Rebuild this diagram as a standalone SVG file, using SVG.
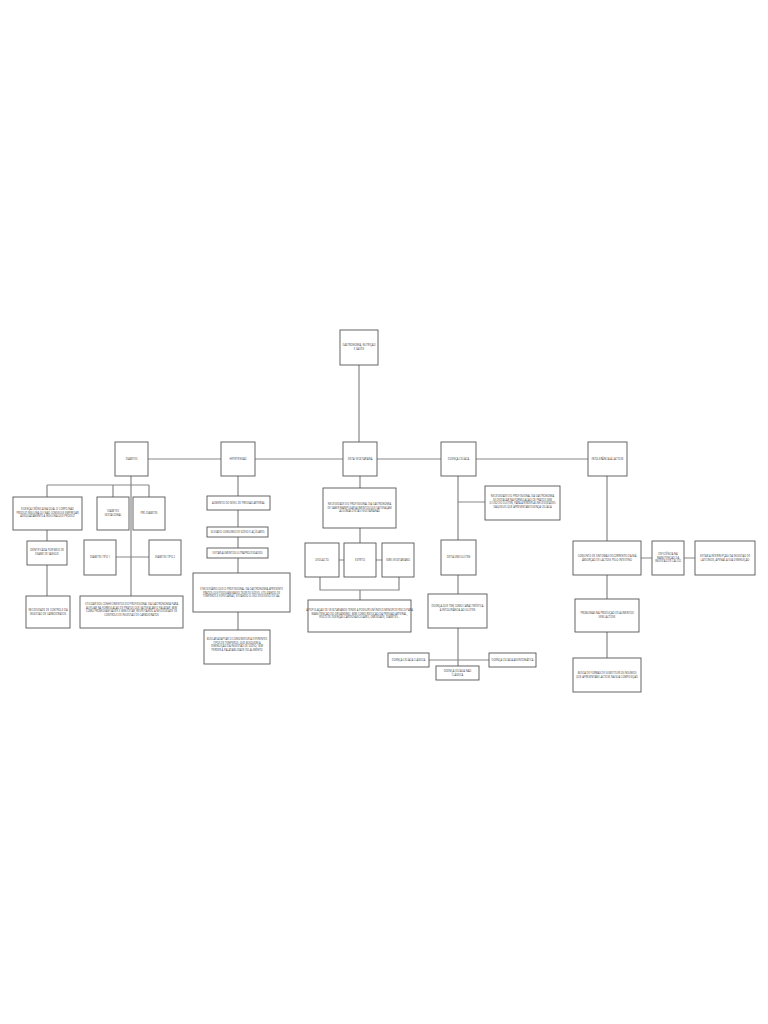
<svg xmlns="http://www.w3.org/2000/svg" width="768" height="1024" viewBox="0 0 768 1024">
<style>
rect{fill:#fff;stroke:#555;stroke-width:0.9}
text{font-family:"Open Sans","Liberation Sans",sans-serif;font-size:2.6px;fill:#444;text-anchor:middle}
.c{stroke:#888;stroke-width:1.2;fill:none}
</style>
<rect x="0" y="0" width="768" height="1024" style="fill:#fff;stroke:none"/>
<g id="connectors">
<path class="c" d="M359 365V442M131 459H588M131 476V596M47 485H149M47 485V497M113 485V497M149 485V497M47 530V541M47 565V596M116 557H149M238 476V496M238 510V527M238 537V548M238 558V573M238 612V630M360 476V488M360 528V543M339 560H344M376 560H382M320 577V590H399V577M360 590V600M458 476V540M458 502H485M458 575V594M458 628V666M429 660H489M607 476V541M641 558H652M684 558H695M607 575V599M607 632V658"/>
</g>
<g id="n0"><rect x="340" y="330" width="38" height="35"/><text x="359" y="346">GASTRONOMIA, NUTRIÇÃO<tspan x="359" dy="3.5">E SAÚDE</tspan></text></g>
<g id="n1"><rect x="115" y="442" width="33" height="34"/><text x="131.5" y="460">DIABETES</text></g>
<g id="n2"><rect x="221" y="442" width="34" height="34"/><text x="238" y="460">HIPERTENSÃO</text></g>
<g id="n3"><rect x="343" y="442" width="34" height="34"/><text x="360" y="460">DIETA VEGETARIANA</text></g>
<g id="n4"><rect x="441" y="442" width="35" height="34"/><text x="458.5" y="460">DOENÇA CELÍACA</text></g>
<g id="n5"><rect x="588" y="442" width="39" height="34"/><text x="607.5" y="460">INTOLERÂNCIA À LACTOSE</text></g>
<g id="n6"><rect x="13" y="497" width="69" height="33"/><text x="47.5" y="510">DOENÇA CRÔNICA NA QUAL O CORPO NÃO<tspan x="47.5" dy="3.5">PRODUZ INSULINA OU NÃO CONSEGUE EMPREGAR</tspan><tspan x="47.5" dy="3.5">ADEQUADAMENTE A INSULINA QUE PRODUZ</tspan></text></g>
<g id="n7"><rect x="97" y="497" width="32" height="33"/><text x="113" y="512">DIABETES<tspan x="113" dy="3.5">GESTACIONAL</tspan></text></g>
<g id="n8"><rect x="133" y="497" width="32" height="33"/><text x="149" y="514">PRÉ-DIABETES</text></g>
<g id="n9"><rect x="27" y="541" width="40" height="24"/><text x="47" y="551">IDENTIFICADA POR MEIO DE<tspan x="47" dy="3.5">EXAME DE SANGUE</tspan></text></g>
<g id="n10"><rect x="84" y="540" width="32" height="35"/><text x="100" y="558">DIABETES TIPO 1</text></g>
<g id="n11"><rect x="149" y="540" width="32" height="35"/><text x="165" y="558">DIABETES TIPO 2</text></g>
<g id="n12"><rect x="26" y="596" width="44" height="32"/><text x="48" y="611">NECESSIDADE DE CONTROLE DA<tspan x="48" dy="3.5">INGESTÃO DE CARBOIDRATOS</tspan></text></g>
<g id="n13"><rect x="80" y="596" width="103" height="32"/><text x="131.5" y="605">UTILIZAR DOS CONHECIMENTOS DO PROFISSIONAL DA GASTRONOMIA PARA<tspan x="131.5" dy="3.5">AUXILIAR NA FORMULAÇÃO DE PRATOS QUE SATISFAÇAM O PALADAR, BEM</tspan><tspan x="131.5" dy="3.5">COMO PROMOVAM SAÚDE E BEM ESTAR, RESPEITANDO A NECESSIDADE DE</tspan><tspan x="131.5" dy="3.5">CONTROLE DE INGESTÃO DE CARBOIDRATOS</tspan></text></g>
<g id="n14"><rect x="207" y="496" width="63" height="14"/><text x="238.5" y="504">AUMENTO DO NÍVEL DE PRESSÃO ARTERIAL</text></g>
<g id="n15"><rect x="207" y="527" width="61" height="10"/><text x="237.5" y="533">ELEVADO CONSUMO DE SÓDIO E AÇÚCARES</text></g>
<g id="n16"><rect x="207" y="548" width="61" height="10"/><text x="237.5" y="554">EVITAR ALIMENTOS ULTRAPROCESSADOS</text></g>
<g id="n17"><rect x="193" y="573" width="97" height="39"/><text x="241.5" y="590">É NECESSÁRIO QUE O PROFISSIONAL DA GASTRONOMIA APRESENTE<tspan x="241.5" dy="3.5">PRATOS QUE POSSUAM BAIXO TEOR DE SÓDIO, UTILIZANDO DE</tspan><tspan x="241.5" dy="3.5">TEMPEROS E ESPECIARIAS, EVITANDO O USO EXCESSIVO DE SAL</tspan></text></g>
<g id="n18"><rect x="204" y="630" width="66" height="34"/><text x="237" y="640">BUSCAR ADAPTAR O CONSUMIDOR A DIFERENTES<tspan x="237" dy="3.5">TIPOS DE TEMPEROS, QUE BUSQUEM A</tspan><tspan x="237" dy="3.5">DIMINUIÇÃO DA INGESTÃO DE SÓDIO, SEM</tspan><tspan x="237" dy="3.5">PERDER A PALATABILIDADE DO ALIMENTO</tspan></text></g>
<g id="n19"><rect x="323" y="488" width="73" height="40"/><text x="359.5" y="505">NECESSIDADE DO PROFISSIONAL DA GASTRONOMIA<tspan x="359.5" dy="3.5">DE SABER MANIPULAR ALIMENTOS QUE SATISFAÇAM</tspan><tspan x="359.5" dy="3.5">ALGUMAS DIETAS VEGETARIANAS</tspan></text></g>
<g id="n20"><rect x="305" y="543" width="34" height="34"/><text x="322" y="561">OVOLACTO</text></g>
<g id="n21"><rect x="344" y="543" width="32" height="34"/><text x="360" y="561">ESTRITO</text></g>
<g id="n22"><rect x="382" y="543" width="32" height="34"/><text x="398" y="561">SEMI-VEGETARIANO</text></g>
<g id="n23"><rect x="308" y="600" width="103" height="32"/><text x="359.5" y="611">A POPULAÇÃO DE VEGETARIANOS TENDE A POSSUIR UM ÍNDICE MENOR DE RISCO PARA<tspan x="359.5" dy="3.5">MANUTENÇÃO DO ORGANISMO, BEM COMO REDUÇÃO DA PRESSÃO ARTERIAL,</tspan><tspan x="359.5" dy="3.5">RISCO DE DOENÇAS CARDIOVASCULARES, OBESIDADE, DIABETES...</tspan></text></g>
<g id="n24"><rect x="485" y="486" width="75" height="34"/><text x="522.5" y="497">NECESSIDADE DO PROFISSIONAL DA GASTRONOMIA<tspan x="522.5" dy="3.5">SE DESTACAR NA FORMULAÇÃO DE PRATOS SEM</tspan><tspan x="522.5" dy="3.5">O USO DO GLÚTEN, PARA ATENDER ÀS NECESSIDADES</tspan><tspan x="522.5" dy="3.5">DAQUELES QUE APRESENTAM DOENÇA CELÍACA</tspan></text></g>
<g id="n25"><rect x="441" y="540" width="35" height="35"/><text x="458.5" y="558">DIETA SEM GLÚTEN</text></g>
<g id="n26"><rect x="428" y="594" width="59" height="34"/><text x="457.5" y="607">DOENÇA QUE TEM COMO CARACTERÍSTICA<tspan x="457.5" dy="3.5">A INTOLERÂNCIA AO GLÚTEN</tspan></text></g>
<g id="n27"><rect x="388" y="653" width="41" height="14"/><text x="408.5" y="661">DOENÇA CELÍACA CLÁSSICA</text></g>
<g id="n28"><rect x="489" y="653" width="47" height="14"/><text x="512.5" y="661">DOENÇA CELÍACA ASSINTOMÁTICA</text></g>
<g id="n29"><rect x="436" y="666" width="43" height="14"/><text x="457.5" y="672">DOENÇA CELÍACA NÃO<tspan x="457.5" dy="3.5">CLÁSSICA</tspan></text></g>
<g id="n30"><rect x="573" y="541" width="68" height="34"/><text x="607" y="557">CONJUNTO DE SINTOMAS DECORRENTES DA MÁ<tspan x="607" dy="3.5">ABSORÇÃO DE LACTOSE PELO INTESTINO</tspan></text></g>
<g id="n31"><rect x="652" y="541" width="32" height="34"/><text x="668" y="555">DEFICIÊNCIA NA<tspan x="668" dy="3.5">MANUTENÇÃO DA</tspan><tspan x="668" dy="3.5">INGESTÃO DE CÁLCIO</tspan></text></g>
<g id="n32"><rect x="695" y="541" width="60" height="34"/><text x="725" y="557">EVITAR A INTERRUPÇÃO DA INGESTÃO DE<tspan x="725" dy="3.5">LATICÍNIOS, APENAS A SUA DIMINUIÇÃO</tspan></text></g>
<g id="n33"><rect x="575" y="599" width="64" height="33"/><text x="607" y="614">PROBLEMAS NA PRODUÇÃO DE ALIMENTOS<tspan x="607" dy="3.5">SEM LACTOSE</tspan></text></g>
<g id="n34"><rect x="573" y="658" width="68" height="34"/><text x="607" y="674">BUSCA DE FORMAS DE SUBSTITUIR OS INSUMOS<tspan x="607" dy="3.5">QUE APRESENTAM LACTOSE NA SUA COMPOSIÇÃO</tspan></text></g>
</svg>
